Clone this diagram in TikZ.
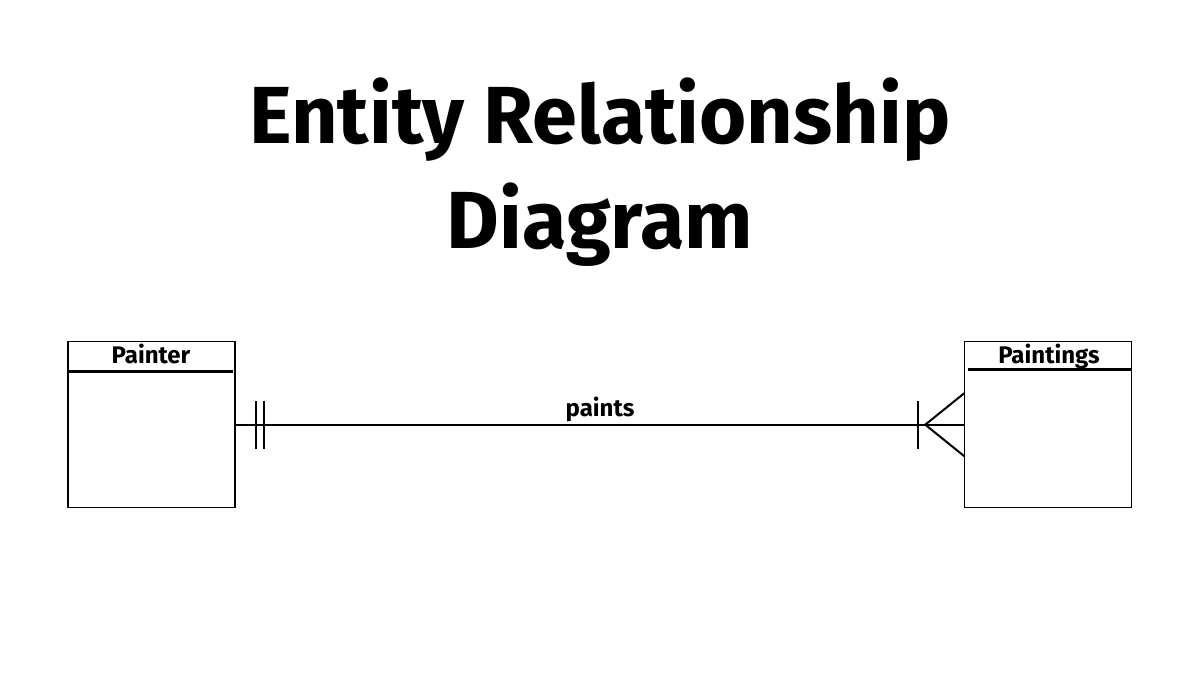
\documentclass[tikz,border=0pt]{standalone}
\usepackage{fontspec}
\setmainfont{Fira Sans}
\begin{document}
\begin{tikzpicture}[x=1pt,y=-1pt,
  entity/.style={draw=black,line width=1.1pt,minimum width=167pt,minimum height=166pt,inner sep=0pt},
  hdr/.style={line width=2.4pt},
  rel/.style={line width=2pt},
  lbl/.style={font=\fontsize{24}{28}\selectfont\bfseries,inner sep=0pt,anchor=base}]
\useasboundingbox[fill=white] (0,0) rectangle (1200,675);
\node[font=\fontsize{81}{105}\selectfont\bfseries,align=center,anchor=base,inner sep=0pt] (title) at (600,248) {Entity Relationship\\Diagram};
\node[entity] (painter) at (151.5,424.7) {};
\node[entity] (paintings) at (1048.3,424.7) {};
\node[lbl] (painterlbl) at (151,363) {Painter};
\node[lbl] (paintingslbl) at (1049,363) {Paintings};
\draw[hdr] ([yshift=-30.3pt]painter.north west) -- ([xshift=-3pt,yshift=-30.3pt]painter.north east);
\draw[hdr] ([xshift=4pt,yshift=-28.3pt]paintings.north west) -- ([yshift=-28.3pt]paintings.north east);
\draw[rel] (painter.east) -- (paintings.west);
\node[lbl] (rellbl) at (600,416) {paints};
% one-and-only-one
\draw[rel] ([xshift=20pt,yshift=24pt]painter.east) -- ([xshift=20pt,yshift=-24pt]painter.east);
\draw[rel] ([xshift=28pt,yshift=24pt]painter.east) -- ([xshift=28pt,yshift=-24pt]painter.east);
% one-or-many
\draw[rel] ([xshift=-46pt,yshift=24pt]paintings.west) -- ([xshift=-46pt,yshift=-24pt]paintings.west);
\draw[rel] ([yshift=31.5pt]paintings.west) -- ([xshift=-39pt]paintings.west) -- ([yshift=-31.5pt]paintings.west);
\end{tikzpicture}
\end{document}
